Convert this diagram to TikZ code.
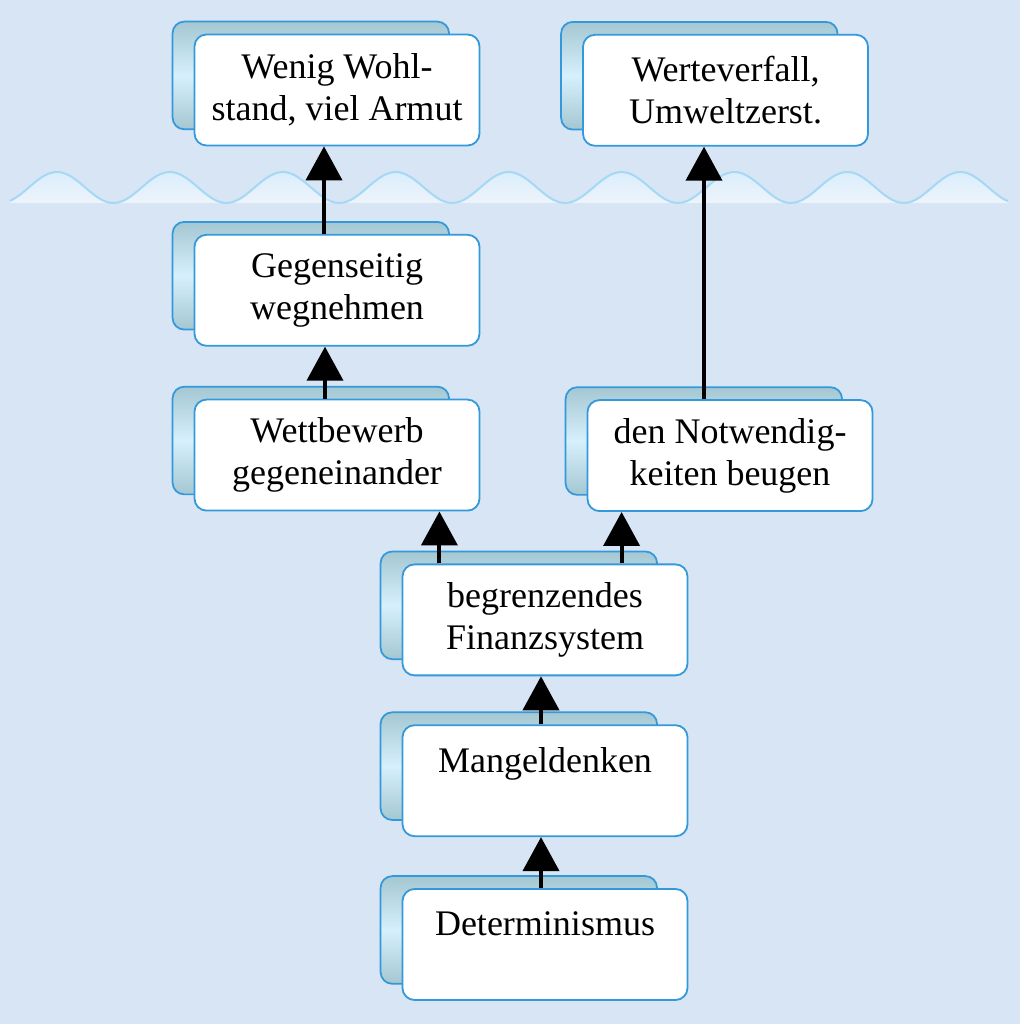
\documentclass[tikz,border=0pt]{standalone}
\usepackage{fontspec}
\setmainfont{Liberation Serif}
\usepackage{xcolor}
\usetikzlibrary{positioning, shadows, arrows.meta}
\definecolor{bgblue}{RGB}{216,229,245}
\definecolor{boxline}{RGB}{51,153,219}
\definecolor{shadetop}{RGB}{164,199,210}
\definecolor{shademid}{RGB}{214,240,252}
\definecolor{wavetop}{RGB}{218,238,252}
\definecolor{wavebottom}{RGB}{238,243,250}
\definecolor{waveline}{RGB}{165,216,245}

\begin{document}
\begin{tikzpicture}[
      x=1pt, y=1pt,
      box/.style={draw=boxline, line width=1.8pt, fill=white, rounded corners=12pt,
        minimum width=285pt, minimum height=111pt, align=center,
        font=\fontsize{36}{42}\selectfont,
        copy shadow={shadow xshift=-27pt, shadow yshift=15pt, shadow scale=0.97,
          draw=boxline, line width=1.8pt, top color=shadetop, bottom color=shadetop,
          middle color=shademid}},
      arrow/.style={line width=4pt, -{Triangle[width=36pt, length=34pt]}},
      wavefill/.style={top color=wavetop, bottom color=wavebottom},
      waveedge/.style={draw=waveline, line width=2pt}
    ]
      \fill[bgblue] (0,0) rectangle (1020,1024);
      \useasboundingbox (0,0) rectangle (1020,1024);
      \shade[wavefill] (10,821) -- plot[domain=10:1008, samples=250] (\x, {836.5+15.5*cos(3.18866*(\x-57))}) -- (1008,821) -- cycle;
      \draw[waveedge] plot[domain=10:1008, samples=250] (\x, {836.5+15.5*cos(3.18866*(\x-57))});

      \node[box] (det) at (545,79.5) {Determinismus\\~};
      \node[box, above=51pt of det] (man) {Mangeldenken\\~};
      \node[box, above=48pt of man] (fin) {begrenzendes\\Finanzsystem};
      \node[box, above=52pt of fin, xshift=-208pt] (wett) {Wettbewerb\\gegeneinander};
      \node[box, above=52pt of wett] (geg) {Gegenseitig\\wegnehmen};
      \node[box, above=87.5pt of geg] (wen) {Wenig Wohl-\\stand, viel Armut};
      \node[box, above=51.5pt of fin, xshift=185pt] (not) {den Notwendig-\\keiten beugen};
      \node[box, above=252.5pt of not, xshift=-4.5pt] (wert) {Werteverfall,\\Umweltzerst.};

      \draw[arrow] ([xshift=-4pt]det.north) -- ([xshift=-4pt]man.south);
      \draw[arrow] ([xshift=-4pt]man.north) -- ([xshift=-4pt]fin.south);
      \draw[arrow] ([xshift=-41pt]wett.south east |- fin.north) -- ([xshift=-41pt]wett.south east);
      \draw[arrow] ([xshift=35pt]not.south west |- fin.north) -- ([xshift=35pt]not.south west);
      \draw[arrow] ([xshift=-12pt]wett.north) -- ([xshift=-12pt]geg.south);
      \draw[arrow] ([xshift=-13pt]geg.north) -- ([xshift=-13pt]wen.south);
      \draw[arrow] ([xshift=-26pt]not.north) -- ([xshift=-26pt]not.north |- wert.south);
\end{tikzpicture}
\end{document}
